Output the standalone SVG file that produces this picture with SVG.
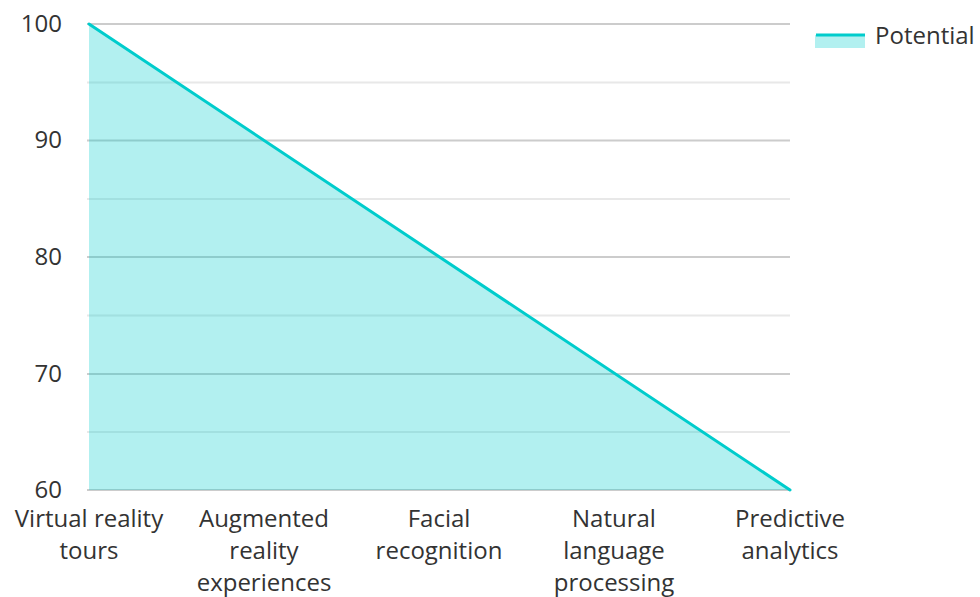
<svg xmlns="http://www.w3.org/2000/svg" width="980" height="597" viewBox="0 0 980 597">
<style>
text{font-family:"Open Sans","Noto Sans","Liberation Sans",sans-serif;font-size:24px;fill:#333}
.maj{stroke:#cccccc;stroke-width:2}
.min{stroke:#e8e8e8;stroke-width:2}
.ya{text-anchor:end}
.xa{text-anchor:middle}
</style>
<rect width="980" height="597" fill="#fff"/>
<g id="grid">
<line class="maj" x1="87" y1="24" x2="790" y2="24"/>
<line class="min" x1="87" y1="82.5" x2="790" y2="82.5"/>
<line class="maj" x1="87" y1="140.5" x2="790" y2="140.5"/>
<line class="min" x1="87" y1="199" x2="790" y2="199"/>
<line class="maj" x1="87" y1="257" x2="790" y2="257"/>
<line class="min" x1="87" y1="315.5" x2="790" y2="315.5"/>
<line class="maj" x1="87" y1="374" x2="790" y2="374"/>
<line class="min" x1="87" y1="432" x2="790" y2="432"/>
<line class="maj" x1="87" y1="490" x2="790" y2="490"/>
</g>
<g id="series">
<polygon points="89,24 790,490 89,490" fill="#00cccc" fill-opacity="0.3"/>
<line x1="89" y1="24" x2="790" y2="490" stroke="#00cccc" stroke-width="3" stroke-linecap="round"/>
</g>
<g id="yaxis">
<text class="ya" x="62" y="32">100</text>
<text class="ya" x="62" y="148">90</text>
<text class="ya" x="62" y="265">80</text>
<text class="ya" x="62" y="382">70</text>
<text class="ya" x="62" y="498">60</text>
</g>
<g id="xaxis">
<text class="xa" x="89" y="527">Virtual reality</text>
<text class="xa" x="89" y="559">tours</text>
<text class="xa" x="264" y="527">Augmented</text>
<text class="xa" x="264" y="559">reality</text>
<text class="xa" x="264" y="591">experiences</text>
<text class="xa" x="439" y="527">Facial</text>
<text class="xa" x="439" y="559">recognition</text>
<text class="xa" x="614" y="527">Natural</text>
<text class="xa" x="614" y="559">language</text>
<text class="xa" x="614" y="591">processing</text>
<text class="xa" x="790" y="527">Predictive</text>
<text class="xa" x="790" y="559">analytics</text>
</g>
<g id="legend">
<rect x="815" y="35" width="50" height="13" fill="#00cccc" fill-opacity="0.3"/>
<line x1="816" y1="35" x2="865" y2="35" stroke="#00cccc" stroke-width="3"/>
<text x="875" y="44">Potential</text>
</g>
</svg>
